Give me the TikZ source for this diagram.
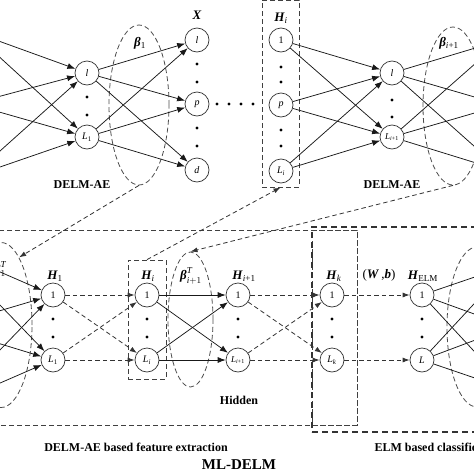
\documentclass[tikz,border=0pt]{standalone}
\usepackage{amsmath}
\usepackage{fontspec}
\setmainfont{Liberation Serif}
\usetikzlibrary{arrows.meta,shapes.geometric}
\newcommand\myH{\textbf{\textit{H}}}
\newcommand\myB{\textbf{\textit{β}}}
\begin{document}
\begin{tikzpicture}[x=1pt,y=-1pt,
  neuron/.style={circle,draw=black!80,line width=0.7pt,minimum size=24pt,inner sep=0pt,font=\fontsize{10}{10}\selectfont},
  conn/.style={draw=black!90,line width=0.75pt,-{Latex[length=8pt,width=6pt]}},
  dconn/.style={draw=black!80,line width=0.8pt,dash pattern=on 4.5pt off 3pt,-{Latex[length=7pt,width=5pt]}},
  dellipse/.style={ellipse,draw=black!70,line width=0.8pt,dash pattern=on 5pt off 3pt,inner sep=0pt},
  dbox/.style={draw=black!75,line width=0.8pt,dash pattern=on 5pt off 3pt,inner sep=0pt},
  tbox/.style={draw=black!80,line width=1.2pt,dash pattern=on 6pt off 4pt,inner sep=0pt},
  dotn/.style={circle,fill=black,inner sep=0pt,minimum size=3.2pt},
  lab/.style={font=\fontsize{12}{12}\selectfont\bfseries},
  mlab/.style={font=\fontsize{13}{13}\selectfont,inner sep=0pt},
]
\useasboundingbox (0,0) rectangle (474,474);
\clip (0,0) rectangle (474,474);

% ================= top left DELM-AE =================
\coordinate (inA) at (-29,31);
\coordinate (inB) at (-29,104);
\coordinate (inC) at (-29,177);
\node[neuron] (h1a) at (87,73) {\textit{l}};
\node[neuron] (h1b) at (87,137) {\textit{L}\textsubscript{1}};
\node[dotn] (h1d1) at (87,97) {};
\node[dotn] (h1d2) at (87,115) {};
\node[neuron] (xa) at (197,40) {\textit{l}};
\node[neuron] (xp) at (197,104) {\textit{p}};
\node[neuron] (xd) at (197,170) {\textit{d}};
\node[dotn] (xd1) at (197,64) {};
\node[dotn] (xd2) at (197,82) {};
\node[dotn] (xd3) at (197,128) {};
\node[dotn] (xd4) at (197,146) {};
\node[mlab] (Xlab) at (197,15) {\textbf{\textit{X}}};
\node[dellipse,minimum width=60pt,minimum height=160pt] (b1) at (139,105) {};
\node[mlab] (b1lab) at (140,43) {\myB\textsubscript{1}};
\node[lab] (ae1) at (82,185) {DELM-AE};
\foreach \s in {inA,inB,inC} \foreach \t in {h1a,h1b} \draw[conn] (\s) -- (\t);
\foreach \s in {h1a,h1b} \foreach \t in {xa,xp,xd} \draw[conn] (\s) -- (\t);

% horizontal dots
\node[dotn] (hd1) at (217,104) {};
\node[dotn] (hd2) at (229,104) {};
\node[dotn] (hd3) at (241,104) {};
\node[dotn] (hd4) at (253,104) {};

% ================= top right DELM-AE =================
\node[dbox,line width=1pt,minimum width=37pt,minimum height=187pt] (HiT) at (280.5,93.5) {};
\node[mlab] (HiTlab) at (281,18) {\myH\textsubscript{\textit{i}}};
\node[neuron] (Ht1) at (281,40) {1};
\node[neuron] (Htp) at (281,105) {\textit{p}};
\node[neuron] (HtL) at (281,171) {\textit{L}\textsubscript{\textit{i}}};
\node[dotn] (Htd1) at (281,67) {};
\node[dotn] (Htd2) at (281,82) {};
\node[dotn] (Htd3) at (281,130) {};
\node[dotn] (Htd4) at (281,146) {};
\node[neuron] (h2a) at (392,73) {\textit{l}};
\node[neuron,font=\fontsize{9}{9}\selectfont] (h2b) at (392,137) {\textit{L}\textsubscript{\textit{i}+1}};
\node[dotn] (h2d1) at (392,100) {};
\node[dotn] (h2d2) at (392,117) {};
\coordinate (o2a) at (502,40);
\coordinate (o2p) at (502,105);
\coordinate (o2d) at (502,171);
\node[dellipse,minimum width=60pt,minimum height=158pt] (b2) at (453,106) {};
\node[mlab] (b2lab) at (449,43) {\myB\textsubscript{\textit{i}+1}};
\node[lab] (ae2) at (392,185) {DELM-AE};
\foreach \s in {Ht1,Htp,HtL} \foreach \t in {h2a,h2b} \draw[conn] (\s) -- (\t);
\foreach \s in {h2a,h2b} \foreach \t in {o2a,o2p,o2d} \draw[conn] (\s) -- (\t);

% ================= bottom ML-DELM =================
\node[dbox,minimum width=380pt,minimum height=195pt] (FE) at (167,327.5) {};
\node[dbox,minimum width=45pt,minimum height=195pt] (HkBox) at (334.5,327.5) {};
\node[tbox,minimum width=180pt,minimum height=205pt] (ELM) at (402,329.5) {};

\coordinate (bi1) at (-55,248);
\coordinate (bi2) at (-55,327);
\coordinate (bi3) at (-55,407);
\node[dellipse,minimum width=62pt,minimum height=165pt] (b1T) at (1,325) {};
\node[mlab] (b1Tlab) at (0,269) {$\text{\myB}^{\textit{T}}_{1}$};

\node[neuron] (c1a) at (53,295) {1};
\node[neuron] (c1b) at (53,360) {\textit{L}\textsubscript{1}};
\node[mlab] (c1lab) at (55,276) {\myH\textsubscript{1}};

\node[dbox,minimum width=38pt,minimum height=119pt] (HiB) at (147,319.5) {};
\node[neuron] (cia) at (147,295) {1};
\node[neuron] (cib) at (147,360) {\textit{L}\textsubscript{\textit{i}}};
\node[mlab] (cilab) at (148,276) {\myH\textsubscript{\textit{i}}};

\node[dellipse,minimum width=45pt,minimum height=135pt] (b2T) at (190.5,319.5) {};
\node[mlab] (b2Tlab) at (191,276) {$\text{\myB}^{\textit{T}}_{\textit{i}+1}$};

\node[neuron] (cja) at (238,295) {1};
\node[neuron,font=\fontsize{9}{9}\selectfont] (cjb) at (238,360) {\textit{L}\textsubscript{\textit{i}+1}};
\node[mlab] (cjlab) at (244,276) {\myH\textsubscript{\textit{i}+1}};

\node[neuron] (cka) at (332,295) {1};
\node[neuron] (ckb) at (332,360) {\textit{L}\textsubscript{\textit{k}}};
\node[mlab] (cklab) at (334,276) {\myH\textsubscript{\textit{k}}};

\node[mlab] (wb) at (379,275) {(\textbf{\textit{W}}\,,\textbf{\textit{b}})};

\node[neuron] (cea) at (422,295) {1};
\node[neuron] (ceb) at (422,360) {\textit{L}};
\node[mlab] (celab) at (423,276) {\myH\textsubscript{ELM}};

\node[dellipse,minimum width=60pt,minimum height=160pt] (bE) at (477,327) {};
\coordinate (oe1) at (510,265);
\coordinate (oe2) at (510,327);
\coordinate (oe3) at (510,390);

\foreach \x in {53,147,238,332,422} {
  \node[dotn] at (\x,319) {};
  \node[dotn] at (\x,337) {};
}

\foreach \s in {bi1,bi2,bi3} \foreach \t in {c1a,c1b} \draw[conn] (\s) -- (\t);
\foreach \s in {c1a,c1b} \foreach \t in {cia,cib} \draw[dconn] (\s) -- (\t);
\foreach \s in {cia,cib} \foreach \t in {cja,cjb} \draw[conn] (\s) -- (\t);
\foreach \s in {cja,cjb} \foreach \t in {cka,ckb} \draw[dconn] (\s) -- (\t);
\draw[dconn] (cka) -- (cea);
\draw[dconn] (ckb) -- (ceb);
\foreach \s in {cea,ceb} \foreach \t in {oe1,oe2,oe3} \draw[conn] (\s) -- (\t);

% connectors between top and bottom
\draw[dconn] (b1.south) -- (b1T.75);
\draw[dconn] (HiB.north) -- (HiT.south);
\draw[dconn] (b2.south) -- (b2T.north);

% texts
\node[lab] (hidden) at (239,400) {Hidden};
\node[lab] (fe) at (136,447) {DELM-AE based feature extraction};
\node[lab,anchor=west] (elmc) at (371,447) {ELM based classifier};
\node[font=\fontsize{15}{15}\selectfont\bfseries,inner sep=0pt] (ml) at (239,465) {ML-DELM};
\end{tikzpicture}
\end{document}
